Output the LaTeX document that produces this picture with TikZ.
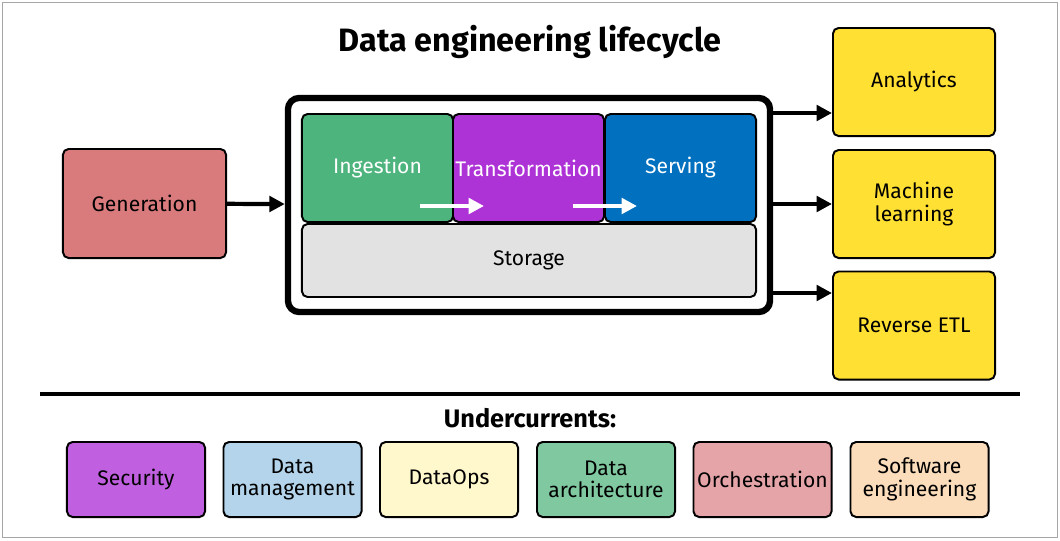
\documentclass[tikz,border=0pt]{standalone}
\usepackage{fontspec}
\setmainfont{Fira Sans}
\usetikzlibrary{arrows.meta}
\definecolor{genred}{HTML}{D97B7D}
\definecolor{inggreen}{HTML}{4DB47E}
\definecolor{trpurple}{HTML}{AE33D6}
\definecolor{servblue}{HTML}{0070BF}
\definecolor{storgray}{HTML}{E2E2E2}
\definecolor{outyellow}{HTML}{FFE033}
\definecolor{secpurple}{HTML}{C060E0}
\definecolor{mgmtblue}{HTML}{B3D4EA}
\definecolor{opsyellow}{HTML}{FFF8CC}
\definecolor{archgreen}{HTML}{80C9A0}
\definecolor{orchred}{HTML}{E5A5A8}
\definecolor{swpeach}{HTML}{FBDDBB}
\tikzset{
  box/.style={draw=black,line width=1.4pt,rounded corners=4pt,align=center,
    font=\fontsize{15}{16}\selectfont,inner sep=1pt},
  usebox/.style={box,fill=outyellow,minimum width=4.05cm,minimum height=2.7cm},
  under/.style={box,minimum width=3.45cm,minimum height=1.875cm},
  stage/.style={box,text=white,minimum width=3.775cm,minimum height=2.7cm},
  flow/.style={-{Triangle[length=11pt,width=11pt]},line width=3pt}
}
\begin{document}
\begin{tikzpicture}[x=0.025cm,y=-0.025cm]
\useasboundingbox (0,0) rectangle (1060,540);
\draw[gray!70,line width=0.6pt] (2,2) rectangle (1057,537);

\node[font=\fontsize{23}{25}\selectfont\bfseries] (title) at (530,42) {Data engineering lifecycle};

% source
\node[box,fill=genred,minimum width=4.075cm,minimum height=2.725cm] (gen) at (144.5,203.5) {Generation};

% lifecycle
\node[draw=black,line width=4.5pt,rounded corners=8pt,minimum width=12.05cm,minimum height=5.35cm] (life) at (529,205) {};
\node[stage,fill=inggreen] (ing) at (377.5,168) {Ingestion};
\node[stage,fill=trpurple] (trans) at (528.5,168) {Transformation};
\node[stage,fill=servblue] (serv) at (680.5,168) {Serving};
\node[box,fill=storgray,minimum width=11.35cm,minimum height=1.825cm] (stor) at (529,260.5) {Storage};
\coordinate (a1) at (420,206); \coordinate (a2) at (484,206);
\coordinate (b1) at (573,206); \coordinate (b2) at (637,206);
\draw[flow,white] (a1) -- (a2);
\draw[flow,white] (b1) -- (b2);

\draw[flow] (gen) -- (life);

% outputs
\node[usebox] (ana) at (914,82) {Analytics};
\node[usebox] (ml) at (914,204) {Machine\\learning};
\node[usebox] (retl) at (914,325.5) {Reverse ETL};
\draw[flow] (life.east |- 0,113) -- (ana.west |- 0,113);
\draw[flow] (life.east |- 0,204) -- (ml.west |- 0,204);
\draw[flow] (life.east |- 0,293) -- (retl.west |- 0,293);

% undercurrents
\coordinate (l1) at (40,394); \coordinate (l2) at (1020,394);
\draw[line width=2.6pt] (l1) -- (l2);
\node[font=\fontsize{18}{20}\selectfont\bfseries] (uc) at (530,418) {Undercurrents:};
\node[under,fill=secpurple] (sec) at (136,479.5) {Security};
\node[under,fill=mgmtblue] (mgmt) at (292.5,479.5) {Data\\management};
\node[under,fill=opsyellow] (ops) at (449,479.5) {DataOps};
\node[under,fill=archgreen] (arch) at (606,479.5) {Data\\architecture};
\node[under,fill=orchred] (orch) at (762.5,479.5) {Orchestration};
\node[under,fill=swpeach] (sw) at (919.5,479.5) {Software\\engineering};
\end{tikzpicture}
\end{document}
